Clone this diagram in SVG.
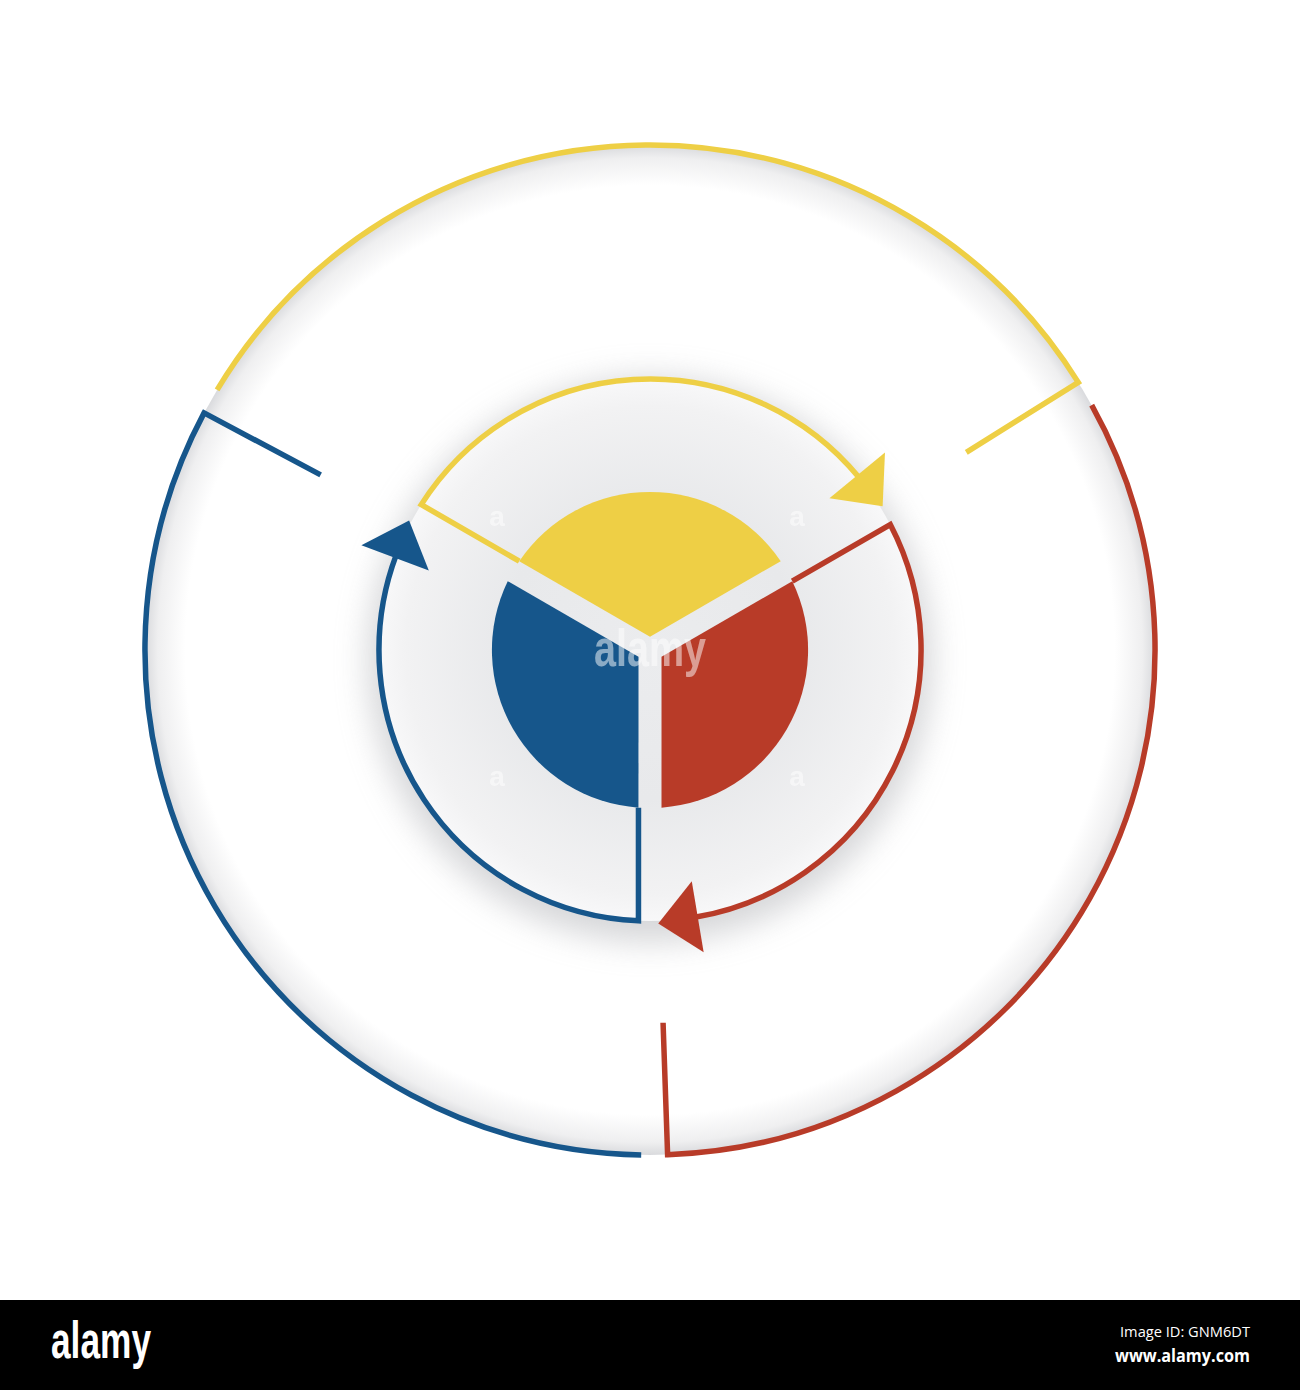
<svg xmlns="http://www.w3.org/2000/svg" width="1300" height="1390" viewBox="0 0 1300 1390">
<defs>
<style>
.ln{fill:none;stroke-width:5.5;stroke-linejoin:miter;stroke-linecap:butt}
.y{stroke:#eecf45}.r{stroke:#b83b28}.b{stroke:#16568b}
.fy{fill:#eecf45}.fr{fill:#b83b28}.fb{fill:#16568b}
.wm{font-family:"Liberation Sans",Arial,sans-serif;font-weight:bold;fill:#ffffff}
.foot{font-family:"Open Sans","Noto Sans",sans-serif;fill:#ffffff}
</style>
<radialGradient id="outerG" cx="650" cy="650" r="505" gradientUnits="userSpaceOnUse">
<stop offset="0" stop-color="#ffffff"/>
<stop offset="0.92" stop-color="#ffffff"/>
<stop offset="0.975" stop-color="#efeff0"/>
<stop offset="1" stop-color="#d9dadd"/>
</radialGradient>
<radialGradient id="innerG" cx="650" cy="650" r="271" gradientUnits="userSpaceOnUse">
<stop offset="0" stop-color="#ebecee"/>
<stop offset="0.55" stop-color="#e8e9eb"/>
<stop offset="0.9" stop-color="#f2f2f3"/>
<stop offset="1" stop-color="#f8f8f9"/>
</radialGradient>
<filter id="blur" x="-30%" y="-30%" width="160%" height="160%">
<feGaussianBlur stdDeviation="16"/>
</filter>
<marker id="ahY" markerUnits="userSpaceOnUse" orient="auto" viewBox="-40 -40 80 80" refX="0" refY="0" markerWidth="80" markerHeight="80"><path d="M-3 -36 L37 0 L-3 36 Z" fill="#eecf45"/></marker>
<marker id="ahR" markerUnits="userSpaceOnUse" orient="auto" viewBox="-40 -40 80 80" refX="0" refY="0" markerWidth="80" markerHeight="80"><path d="M-3 -36 L37 0 L-3 36 Z" fill="#b83b28"/></marker>
<marker id="ahB" markerUnits="userSpaceOnUse" orient="auto" viewBox="-40 -40 80 80" refX="0" refY="0" markerWidth="80" markerHeight="80"><path d="M-3 -36 L37 0 L-3 36 Z" fill="#16568b"/></marker>
</defs>

<rect x="0" y="0" width="1300" height="1390" fill="#ffffff"/>

<!-- backgrounds -->
<g id="background">
<circle cx="650" cy="650" r="505" fill="url(#outerG)"/>
<circle cx="650" cy="660" r="282" fill="#b4b5b9" opacity="0.55" filter="url(#blur)"/>
<circle cx="650" cy="650" r="271" fill="url(#innerG)"/>
</g>

<!-- pie segments (nodes) -->
<g id="node-yellow">
<path class="fy" d="M650 636.7 L519.25 561.2 A158 158 0 0 1 780.75 561.2 Z"/>
</g>
<g id="node-red">
<path class="fr" transform="rotate(120 650 650)" d="M650 636.7 L519.25 561.2 A158 158 0 0 1 780.75 561.2 Z"/>
</g>
<g id="node-blue">
<path class="fb" transform="rotate(240 650 650)" d="M650 636.7 L519.25 561.2 A158 158 0 0 1 780.75 561.2 Z"/>
</g>

<!-- connectors -->
<g id="connectors">
<path class="ln y" d="M217.1 389.9 A505 505 0 0 1 1078.3 382.4 L966.3 452.3"/>
<path class="ln r" transform="rotate(120 650 650)" d="M217.1 389.9 A505 505 0 0 1 1078.3 382.4 L966.3 452.3"/>
<path class="ln b" transform="rotate(240 650 650)" d="M217.1 389.9 A505 505 0 0 1 1078.3 382.4 L966.3 452.3"/>

<path class="ln y" marker-end="url(#ahY)" d="M519.25 561.2 L421.25 504.6 A271 271 0 0 1 859.1 477.6"/>
<path class="ln r" marker-end="url(#ahR)" transform="rotate(120 650 650)" d="M519.25 561.2 L421.25 504.6 A271 271 0 0 1 859.1 477.6"/>
<path class="ln b" marker-end="url(#ahB)" transform="rotate(240 650 650)" d="M519.25 561.2 L421.25 504.6 A271 271 0 0 1 859.1 477.6"/>
</g>

<!-- watermark -->
<g id="watermark" opacity="0.5">
<text class="wm" x="650" y="666" font-size="52" text-anchor="middle" textLength="112" lengthAdjust="spacingAndGlyphs">alamy</text>
<text class="wm" x="497" y="526" font-size="28" text-anchor="middle">a</text>
<text class="wm" x="797" y="526" font-size="28" text-anchor="middle">a</text>
<text class="wm" x="497" y="786" font-size="28" text-anchor="middle">a</text>
<text class="wm" x="797" y="786" font-size="28" text-anchor="middle">a</text>
</g>

<!-- footer bar -->
<g id="footer">
<rect x="0" y="1300" width="1300" height="90" fill="#000000"/>
<text class="wm" x="51" y="1358" font-size="52" textLength="100" lengthAdjust="spacingAndGlyphs">alamy</text>
<text class="foot" x="1250" y="1337" font-size="15" text-anchor="end" textLength="130" lengthAdjust="spacingAndGlyphs">Image ID: GNM6DT</text>
<text class="foot" x="1250" y="1362" font-size="17" font-weight="bold" text-anchor="end" textLength="135" lengthAdjust="spacingAndGlyphs">www.alamy.com</text>
</g>
</svg>
